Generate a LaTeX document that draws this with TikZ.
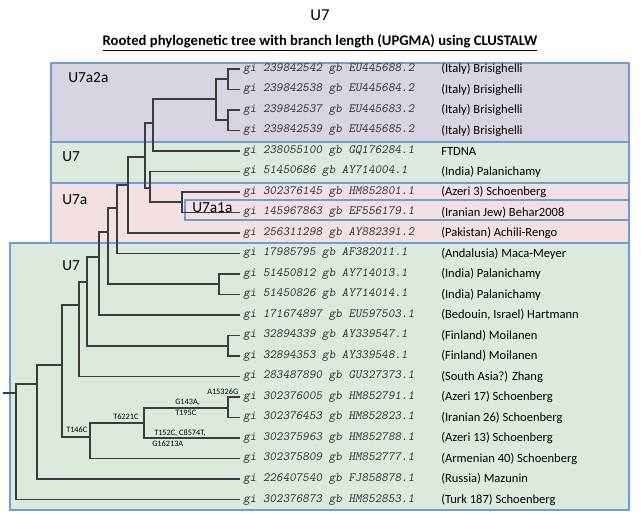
\documentclass[tikz,border=0pt]{standalone}
\usepackage{fontspec}
\setmainfont{Carlito}
\newfontfamily\gifont{Latin Modern Mono Slanted}
\definecolor{purp}{HTML}{D9D4E1}
\definecolor{grn}{HTML}{DCEADE}
\definecolor{pnk}{HTML}{F2E1E0}
\definecolor{bord}{HTML}{6E9DD6}
\definecolor{br}{HTML}{3C3C3C}
\begin{document}
\begin{tikzpicture}[x=0.75pt,y=-0.75pt,
  box/.style={draw=bord,line width=1pt},
  edge/.style={draw=br,line width=1.1pt},
  gi/.style={anchor=west,inner sep=0pt,font=\gifont\fontsize{9.4}{10}\selectfont,text=black!80},
  lab/.style={anchor=west,inner sep=0pt,font=\fontsize{9.4}{10}\selectfont},
  grp/.style={anchor=west,inner sep=0pt,font=\fontsize{11.5}{12}\selectfont},
  mut/.style={anchor=west,inner sep=0pt,font=\fontsize{6.2}{7}\selectfont}]
\useasboundingbox (0,0) rectangle (641,513);
\fill[white] (0,0) rectangle (641,513);
% boxes
\path[box,fill=grn] (10,243) rectangle (629,510);
\path[box,fill=purp] (51,63) rectangle (629,142);
\path[box,fill=grn] (51,142) rectangle (629,183);
\path[box,fill=pnk] (51,183) rectangle (629,243);
\path[box,draw=bord] (185,200) rectangle (629,220);
\node[grp] (g1) at (68,78) {U7a2a};
\node[grp] (g2) at (62,157) {U7};
\node[grp] (g3) at (62,200) {U7a};
\node[grp] (g4) at (192,208) {U7a1a};
\node[grp] (g5) at (62,266) {U7};
% titles
\node[font=\fontsize{12.5}{14}\selectfont] (t1) at (320,15) {U7};
\node[font=\bfseries\fontsize{11}{13}\selectfont] (t2) at (320,43) {\underline{Rooted phylogenetic tree with branch length (UPGMA) using CLUSTALW}};
% leaves
\foreach \i/\g/\l in {
1/gi 239842542 gb EU445688.2/(Italy) Brisighelli,
2/gi 239842538 gb EU445684.2/(Italy) Brisighelli,
3/gi 239842537 gb EU445683.2/(Italy) Brisighelli,
4/gi 239842539 gb EU445685.2/(Italy) Brisighelli,
5/gi 238055100 gb GQ176284.1/FTDNA,
6/gi 51450686 gb AY714004.1/(India) Palanichamy,
7/gi 302376145 gb HM852801.1/(Azeri 3) Schoenberg,
8/gi 145967863 gb EF556179.1/(Iranian Jew) Behar2008,
9/gi 256311298 gb AY882391.2/(Pakistan) Achili-Rengo,
10/gi 17985795 gb AF382011.1/(Andalusia) Maca-Meyer,
11/gi 51450812 gb AY714013.1/(India) Palanichamy,
12/gi 51450826 gb AY714014.1/(India) Palanichamy,
13/gi 171674897 gb EU597503.1/(Bedouin{,} Israel) Hartmann,
14/gi 32894339 gb AY339547.1/(Finland) Moilanen,
15/gi 32894353 gb AY339548.1/(Finland) Moilanen,
16/gi 283487890 gb GU327373.1/(South Asia?) Zhang,
17/gi 302376005 gb HM852791.1/(Azeri 17) Schoenberg,
18/gi 302376453 gb HM852823.1/(Iranian 26) Schoenberg,
19/gi 302375963 gb HM852788.1/(Azeri 13) Schoenberg,
20/gi 302375809 gb HM852777.1/(Armenian 40) Schoenberg,
21/gi 226407540 gb FJ858878.1/(Russia) Mazunin,
22/gi 302376873 gb HM852853.1/(Turk 187) Schoenberg}{
  \pgfmathsetmacro\yy{69+(\i-1)*20.5}
  \coordinate (l\i) at (240,\yy);
  \node[gi] (gi\i) at (243,\yy) {\g};
  \node[lab] (lb\i) at (441,\yy) {\l};
}
% internal nodes
\coordinate (a12) at (228,79);
\coordinate (a34) at (228,120);
\coordinate (a14) at (216,99);
\coordinate (a15) at (153,123);
\coordinate (C) at (182,202);
\coordinate (B) at (150,188);
\coordinate (A) at (145,157);
\coordinate (D) at (128,185);
\coordinate (E) at (117,208);
\coordinate (K) at (219,284);
\coordinate (F) at (108,232);
\coordinate (G) at (99,257);
\coordinate (M) at (228,346);
\coordinate (L) at (87,282);
\coordinate (N) at (79,305);
\coordinate (J) at (228,408);
\coordinate (I) at (144,423);
\coordinate (H) at (90,437);
\coordinate (O) at (62,365);
\coordinate (P) at (37,384);
\coordinate (R) at (16,393);
\coordinate (st) at (3,393);
\foreach \p/\c in {a12/l1,a12/l2,a34/l3,a34/l4,a14/a12,a14/a34,a15/a14,a15/l5,
  C/l7,C/l8,B/l6,B/C,A/a15,A/B,D/A,D/l9,E/D,E/l10,K/l11,K/l12,F/E,F/K,
  G/F,G/l13,M/l14,M/l15,L/G,L/M,N/L,N/l16,J/l17,J/l18,I/J,I/l19,H/I,H/l20,
  O/N,O/H,P/O,P/l21,R/P,R/l22}
  \draw[edge] (\p) |- (\c);
\draw[edge] (st) -- (R);
% mutations
\node[mut] (m1) at (207,392) {A15326G};
\node[mut] (m2) at (175,402) {G143A,};
\node[mut] (m3) at (175,413) {T195C};
\node[mut] (m4) at (113,417) {T6221C};
\node[mut] (m5) at (66,430) {T146C};
\node[mut] (m6) at (154,433) {T152C, C8574T,};
\node[mut] (m7) at (152,444) {G16213A};
\end{tikzpicture}
\end{document}
